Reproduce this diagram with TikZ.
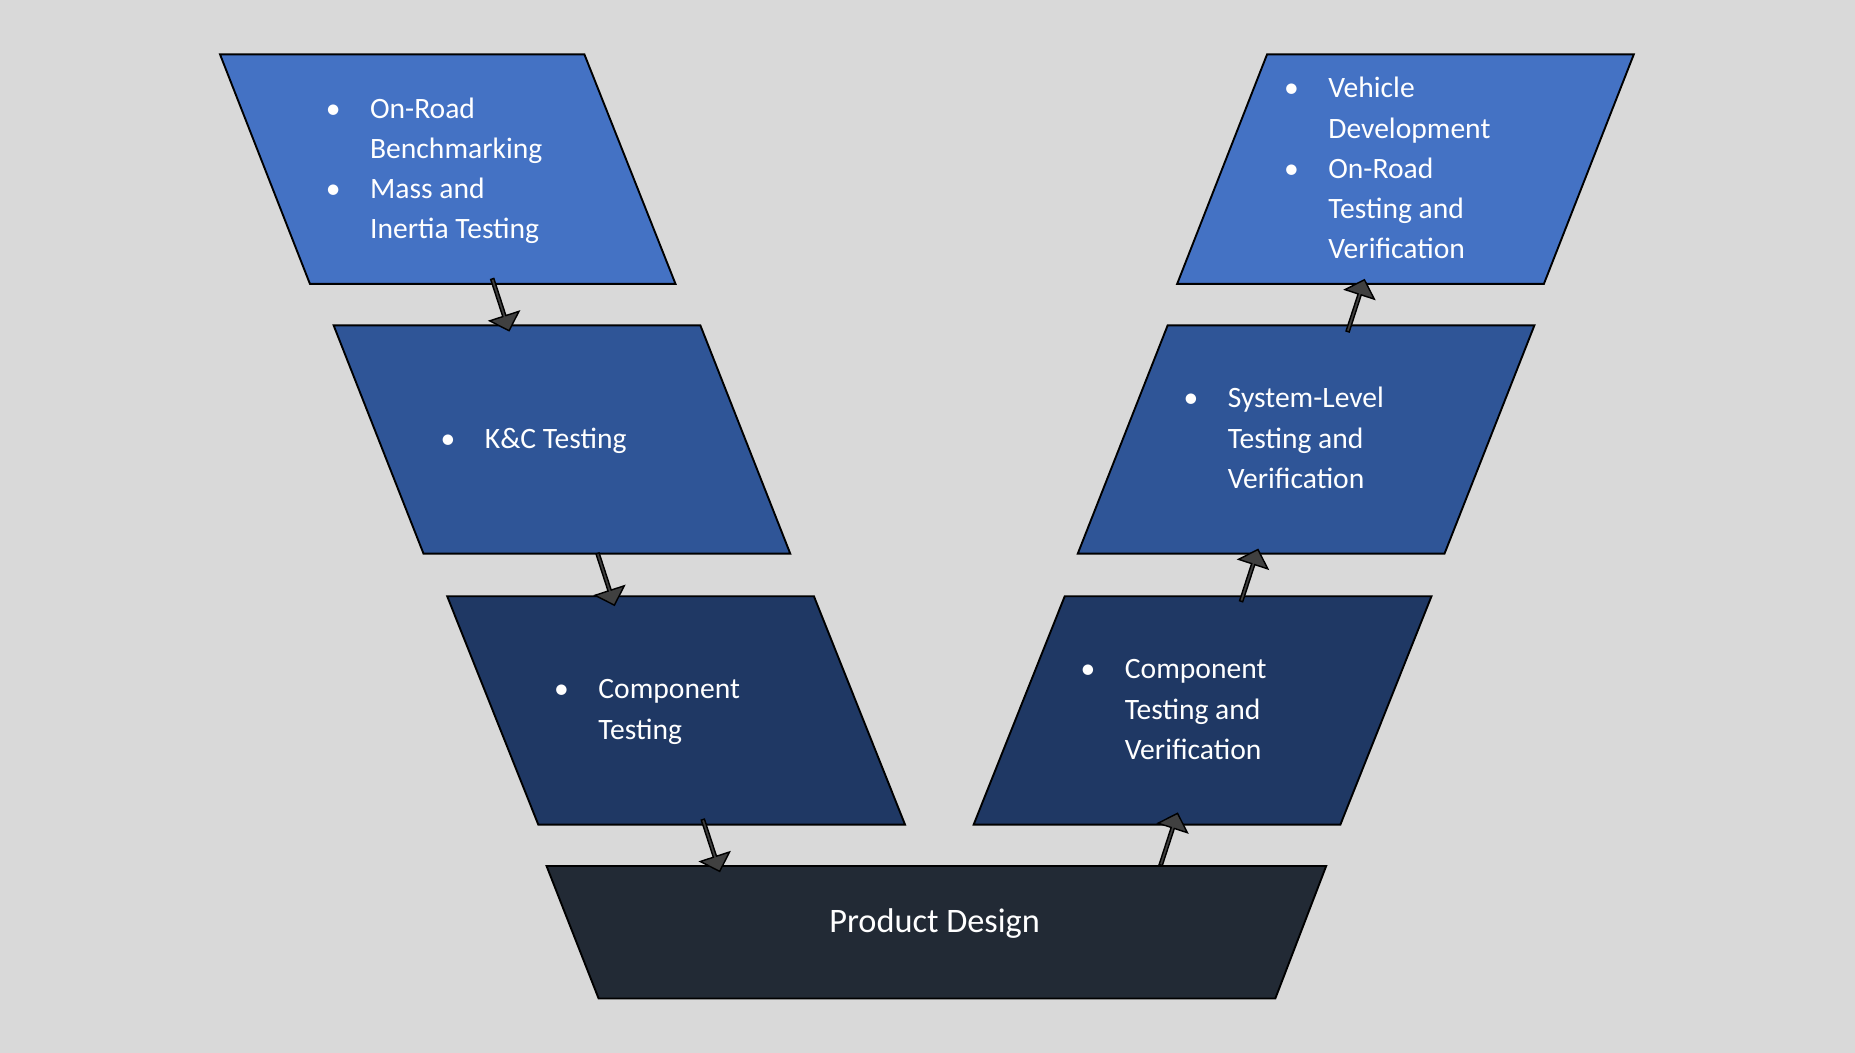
\documentclass[tikz,border=0pt]{standalone}
\usepackage{fontspec}
\setmainfont{Carlito}
\usetikzlibrary{shapes.arrows}
\definecolor{bg}{HTML}{D9D9D9}
\definecolor{c1}{HTML}{4472C4}
\definecolor{c2}{HTML}{2F5597}
\definecolor{c3}{HTML}{1F3864}
\definecolor{c4}{HTML}{222A35}
\definecolor{ar}{HTML}{404040}
\newcommand{\bl}{\textbullet}
\begin{document}
\begin{tikzpicture}[x=0.5pt,y=-0.5pt,
  blk/.style={draw=black,line width=0.8pt},
  txt/.style={text=white,anchor=west,inner sep=0pt,font=\fontsize{12.5}{17}\selectfont,align=left},
  arr/.style={single arrow,draw=black,fill=ar,line width=0.6pt,minimum height=23pt,minimum width=13pt,single arrow head extend=2.5pt,inner sep=0pt,single arrow tip angle=90}]
\fill[bg] (0,0) rectangle (1568,890);
\useasboundingbox (0,0) rectangle (1568,890);
\filldraw[blk,fill=c1] (186,46)--(494,46)--(571,240)--(262,240)--cycle;
\filldraw[blk,fill=c2] (282,275)--(592,275)--(668,468)--(358,468)--cycle;
\filldraw[blk,fill=c3] (378,504)--(688,504)--(765,697)--(455,697)--cycle;
\filldraw[blk,fill=c4] (462,732)--(1121,732)--(1078,844)--(506,844)--cycle;
\filldraw[blk,fill=c3] (900,504)--(1210,504)--(1133,697)--(823,697)--cycle;
\filldraw[blk,fill=c2] (987,275)--(1297,275)--(1221,468)--(911,468)--cycle;
\filldraw[blk,fill=c1] (1071,46)--(1381,46)--(1305,240)--(995,240)--cycle;
\node[txt] (t1) at (275,144) {\begin{tabular}{@{}l@{\hspace{12.5pt}}l@{}}\bl&On-Road\\&Benchmarking\\\bl&Mass and\\&Inertia Testing\end{tabular}};
\node[txt] (t2) at (372,372) {\begin{tabular}{@{}l@{\hspace{12.5pt}}l@{}}\bl&K\&C Testing\end{tabular}};
\node[txt] (t3) at (468,601) {\begin{tabular}{@{}l@{\hspace{12.5pt}}l@{}}\bl&Component\\&Testing\end{tabular}};
\node[txt] (t4) at (913,601) {\begin{tabular}{@{}l@{\hspace{12.5pt}}l@{}}\bl&Component\\&Testing and\\&Verification\end{tabular}};
\node[txt] (t5) at (1000,372) {\begin{tabular}{@{}l@{\hspace{12.5pt}}l@{}}\bl&System-Level\\&Testing and\\&Verification\end{tabular}};
\node[txt] (t6) at (1085,144) {\begin{tabular}{@{}l@{\hspace{12.5pt}}l@{}}\bl&Vehicle\\&Development\\\bl&On-Road\\&Testing and\\&Verification\end{tabular}};
\node[text=white,font=\fontsize{14.5}{17}\selectfont] (pd) at (790,781) {Product Design};
\node[arr,rotate=-72] (a1) at (423,257) {};
\node[arr,rotate=-72] (a2) at (512,489) {};
\node[arr,rotate=-72] (a3) at (601,714) {};
\node[arr,rotate=72] (a4) at (988,710) {};
\node[arr,rotate=72] (a5) at (1056,487) {};
\node[arr,rotate=72] (a6) at (1146,259) {};
\end{tikzpicture}
\end{document}
